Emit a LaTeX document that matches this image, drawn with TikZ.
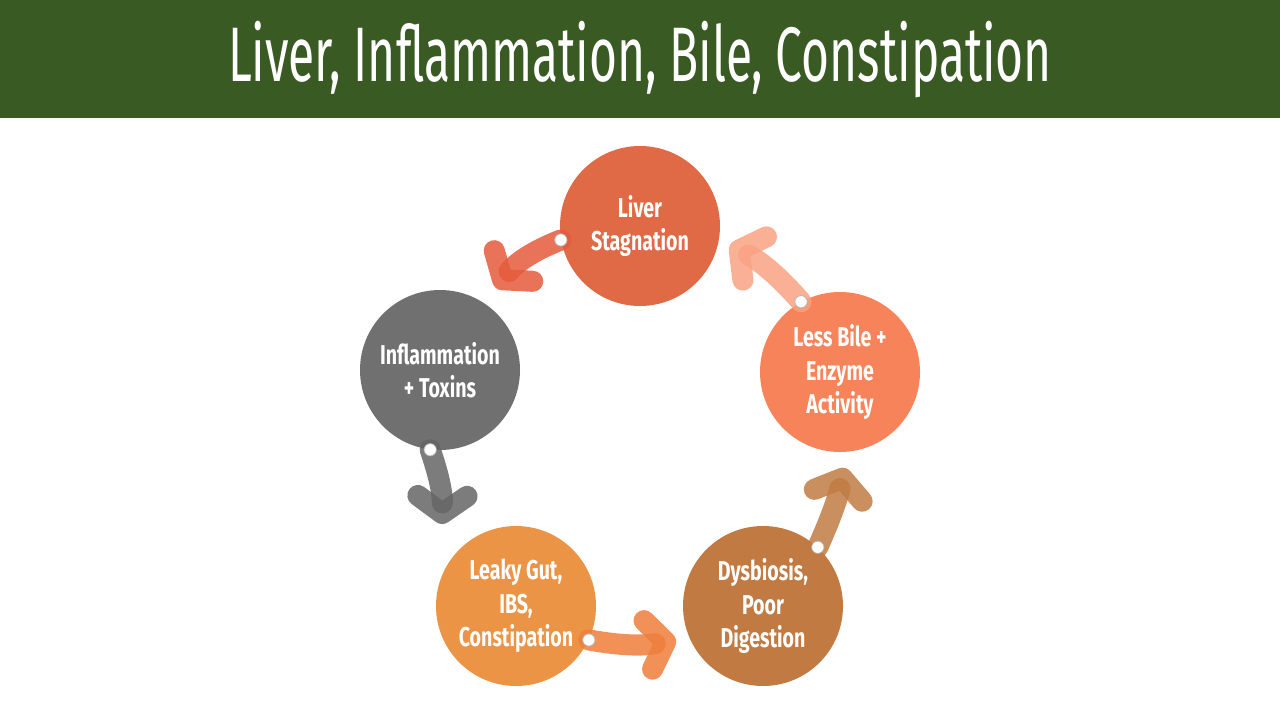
\documentclass[tikz,border=0pt]{standalone}
\usepackage{fontspec}
\setmainfont{Fira Sans}[FakeStretch=0.72]
\usetikzlibrary{arrows.meta,positioning}
\definecolor{hdrgreen}{HTML}{3A5A23}
\definecolor{cliver}{HTML}{E06A45}
\definecolor{cinfl}{HTML}{707070}
\definecolor{cleaky}{HTML}{EC9445}
\definecolor{cdysb}{HTML}{C07A42}
\definecolor{cbile}{HTML}{F7835A}
\tikzset{
  stage/.style={circle, minimum size=160*0.02cm, inner sep=0pt, text=white,
    align=center, font=\fontsize{15.5}{19}\selectfont\bfseries},
  flow/.style={line width=12pt, line cap=round, opacity=0.85,
    -{Straight Barb[round, length=10pt, width=28pt, line width=12pt]}},
  dot/.style={circle, fill=white, draw=gray!60, inner sep=0pt, minimum size=7pt}
}
\begin{document}
\begin{tikzpicture}[x=0.02cm, y=-0.02cm]
\useasboundingbox (0,0) rectangle (1280,720);
%header
\fill[hdrgreen] (0,0) rectangle (1280,118);
\node[text=white, font=\fontsize{44}{48}\selectfont\addfontfeature{FakeStretch=0.62}] (title) at (640,60) {Liver, Inflammation, Bile, Constipation};

%circles
\node[stage, fill=cliver] (liver) at (640,226) {Liver\\Stagnation};
\node[stage, fill=cinfl] (infl) at (440,370) {Inflammation\\+ Toxins};
\node[stage, fill=cleaky] (leaky) at (516,606) {Leaky Gut,\\IBS,\\Constipation};
\node[stage, fill=cdysb] (dysb) at (763,606) {Dysbiosis,\\Poor\\Digestion};
\node[stage, fill=cbile] (bile) at (840,372) {Less Bile +\\Enzyme\\Activity};

%arrow ends
\coordinate (e1) at (496,288);
\coordinate (e2) at (442,524);
\coordinate (e3) at (676,640);
\coordinate (e4) at (845,468);
\coordinate (e5) at (730,245);

%arrows
\draw[flow, color=cliver!85!red] (liver.190) to[bend right=15] (e1);
\draw[flow, color=cinfl!90!black] (infl.263) to[bend left=10] (e2);
\draw[flow, color=cleaky!85!red] (leaky.335) to[bend right=10] (e3);
\draw[flow, color=cdysb!85!brown] (dysb.47) to[bend right=5] (e4);
\draw[flow, color=cbile!75!white] (bile.119) to[bend right=10] (e5);

%dots
\foreach \n/\a in {liver/190, infl/263, leaky/335, dysb/47, bile/119}
  \node[dot] at (\n.\a) {};
\end{tikzpicture}
\end{document}
